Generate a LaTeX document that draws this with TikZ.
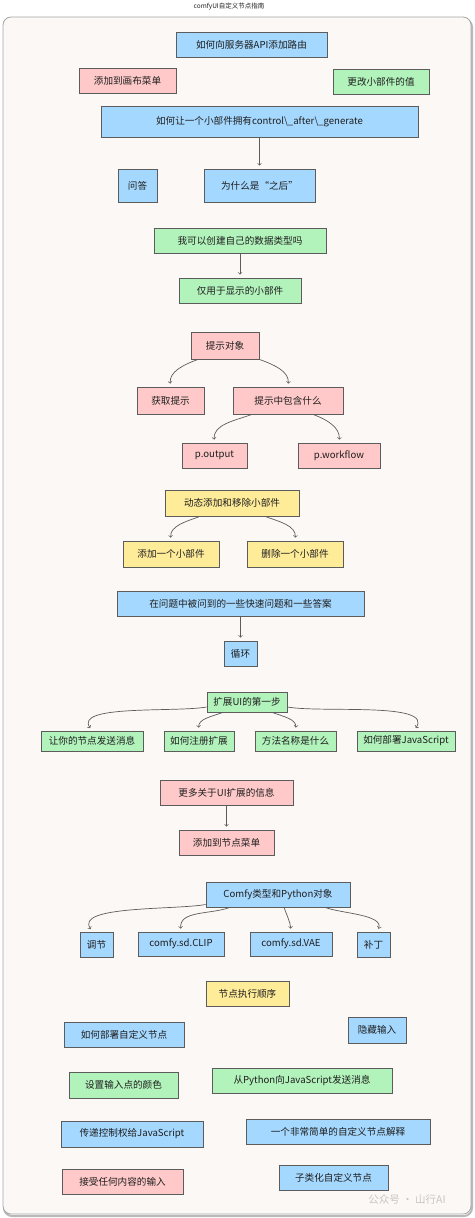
\documentclass[tikz,border=0pt]{standalone}
\usepackage{fontspec}
\newfontfamily\cjk{Noto Sans CJK SC}
\usepackage{xcolor}
\usetikzlibrary{positioning}
\definecolor{cardblue}{HTML}{A5D8FF}
\definecolor{cardpink}{HTML}{FFC9C9}
\definecolor{cardgreen}{HTML}{B2F2BB}
\definecolor{cardyellow}{HTML}{FFEC99}
\definecolor{cardline}{HTML}{5C5C5C}
\definecolor{inkdark}{HTML}{1E1E1E}
\definecolor{paper}{HTML}{FCF8F6}

\begin{document}
\begin{tikzpicture}[x=1pt, y=1pt,
	card/.style={draw=cardline, line width=0.8pt, text=inkdark, inner sep=0pt,
		font=\cjk\fontsize{9.6}{11}\selectfont},
	sz/.style 2 args={minimum width=#1, minimum height=#2},
	bluebox/.style={card, fill=cardblue},
	pinkbox/.style={card, fill=cardpink},
	greenbox/.style={card, fill=cardgreen},
	yellowbox/.style={card, fill=cardyellow},
	link/.style={->, draw=cardline, line width=0.7pt, shorten >=3pt}
	]
				\useasboundingbox (0,0) rectangle (474,-1218);
				\fill[white] (0,0) rectangle (474,-1218);
				\draw[gray!55, line width=2pt, rounded corners=8pt]
				(4,-19) rectangle (472,-1216);
				\draw[fill=paper, draw=gray!70, line width=0.8pt, rounded corners=8pt]
				(3,-17) rectangle (471,-1214);
				
				\node[font=\cjk\fontsize{6.5}{7}\selectfont, text=inkdark] (title) at (229,-6.5) {comfyUI自定义节点指南};
				
				% top block
				\node[bluebox, sz={151}{25}] (api) at (251.5,-44.5) {如何向服务器API添加路由};
				\node[pinkbox, sz={97}{25}] (canvas) at (127.5,-80.5) {添加到画布菜单};
				\node[greenbox, sz={96}{25}] (widgetval) at (381,-81.5) {更改小部件的值};
				\node[bluebox, sz={317}{31}] (ctrl) at (259.5,-121.5) {如何让一个小部件拥有control\textbackslash\_after\textbackslash\_generate};
				\node[bluebox, sz={39}{33}] (qa) at (137.5,-185.5) {问答};
				\node[bluebox, sz={111}{33}] (why) at (259.5,-185.5) {为什么是“之后”};
				\draw[link] (ctrl) -- (why);
				
				\node[greenbox, sz={172}{25}] (datatype) at (240,-240.5) {我可以创建自己的数据类型吗};
				\node[greenbox, sz={122}{25}] (display) at (240,-290.5) {仅用于显示的小部件};
				\draw[link] (datatype) -- (display);
				
				% prompt object
				\node[pinkbox, sz={68}{27}] (prompt) at (225,-345.5) {提示对象};
				\node[pinkbox, sz={67}{27}] (getprompt) at (170.5,-400.5) {获取提示};
				\node[pinkbox, sz={110}{27}] (inprompt) at (288,-400.5) {提示中包含什么};
				\node[pinkbox, sz={65}{25}] (poutput) at (214.5,-455.5) {p.output};
				\node[pinkbox, sz={82}{25}] (pworkflow) at (339,-455.5) {p.workflow};
				\draw[link] ([xshift=-27]prompt.south) to[out=200, in=95] (getprompt.north);
				\draw[link] (prompt.south east) to[out=-20, in=85] (inprompt.north);
				\draw[link] ([xshift=-36]inprompt.south) to[out=200, in=95] (poutput.north);
				\draw[link] ([xshift=25]inprompt.south) to[out=-20, in=85] (pworkflow.north);
				
				% widgets
				\node[yellowbox, sz={134}{26}] (dynamic) at (232,-503) {动态添加和移除小部件};
				\node[yellowbox, sz={96}{26}] (addw) at (171,-554) {添加一个小部件};
				\node[yellowbox, sz={96}{26}] (delw) at (295,-554) {删除一个小部件};
				\draw[link] ([xshift=-32]dynamic.south) to[out=200, in=95] (addw.north);
				\draw[link] ([xshift=33]dynamic.south) to[out=-20, in=85] (delw.north);
				
				\node[bluebox, sz={247}{25}] (quickqa) at (240.5,-603.5) {在问题中被问到的一些快速问题和一些答案};
				\node[bluebox, sz={33}{25}] (loop) at (240.5,-653.5) {循环};
				\draw[link] (quickqa) -- (loop);
				
				% UI extensions
				\node[greenbox, sz={80}{20}] (firststep) at (247,-702) {扩展UI的第一步};
				\node[greenbox, sz={102}{20}] (sendmsg) at (92,-741) {让你的节点发送消息};
				\node[greenbox, sz={70}{20}] (register) at (199,-741) {如何注册扩展};
				\node[greenbox, sz={81}{20}] (methname) at (295.5,-741) {方法名称是什么};
				\node[greenbox, sz={98}{20}] (deployjs) at (406,-741) {如何部署JavaScript};
				\draw[link] ([yshift=-5]firststep.west) to[out=190, in=125, looseness=0.7] (sendmsg.north);
				\draw[link] ([xshift=-24]firststep.south) to[out=200, in=95] (register.north);
				\draw[link] ([xshift=25]firststep.south) to[out=-20, in=85] (methname.north);
				\draw[link] ([yshift=-5]firststep.east) to[out=-10, in=55, looseness=0.7] ([xshift=8]deployjs.north);
				
				\node[pinkbox, sz={133}{25}] (moreui) at (226.5,-792.5) {更多关于UI扩展的信息};
				\node[pinkbox, sz={95}{25}] (nodemenu) at (226.5,-842.5) {添加到节点菜单};
				\draw[link] (moreui) -- (nodemenu);
				
				% types
				\node[bluebox, sz={144}{25}] (comfytypes) at (278,-894.5) {Comfy类型和Python对象};
				\node[bluebox, sz={33}{25}] (cond) at (96.5,-944.5) {调节};
				\node[bluebox, sz={86}{24}] (clip) at (181,-944) {comfy.sd.CLIP};
				\node[bluebox, sz={82}{24}] (vae) at (291,-944) {comfy.sd.VAE};
				\node[bluebox, sz={33}{25}] (patch) at (373.5,-944.5) {补丁};
				\draw[link] ([yshift=-10]comfytypes.west) to[out=190, in=125, looseness=0.7] ([xshift=-4]cond.north);
				\draw[link] ([xshift=-48]comfytypes.south) to[out=200, in=95] (clip.north);
				\draw[link] ([xshift=6]comfytypes.south) to[out=-70, in=95] (vae.north);
				\draw[link] ([xshift=47]comfytypes.south) to[out=-20, in=70, looseness=0.8] ([xshift=4]patch.north);
				
				% loose topics
				\node[yellowbox, sz={83}{25}] (execorder) at (247.5,-993.5) {节点执行顺序};
				\node[bluebox, sz={120}{25}] (deploynode) at (124,-1034.5) {如何部署自定义节点};
				\node[bluebox, sz={58}{26}] (hidden) at (377,-1030) {隐藏输入};
				\node[greenbox, sz={109}{26}] (inputcolor) at (123.5,-1085) {设置输入点的颜色};
				\node[greenbox, sz={180}{25}] (py2js) at (302,-1080.5) {从Python向JavaScript发送消息};
				\node[bluebox, sz={142}{26}] (ctrl2js) at (132,-1134) {传递控制权给JavaScript};
				\node[bluebox, sz={184}{25}] (simplenode) at (338,-1131.5) {一个非常简单的自定义节点解释};
				\node[pinkbox, sz={121}{25}] (anyinput) at (122.5,-1181.5) {接受任何内容的输入};
				\node[bluebox, sz={109}{25}] (subclass) at (333.5,-1177.5) {子类化自定义节点};
				
				\node[font=\cjk\fontsize{10.5}{12}\selectfont, text=gray!45] (mark) at (407,-1199) {公众号 · 山行AI};
			\end{tikzpicture}
\end{document}
